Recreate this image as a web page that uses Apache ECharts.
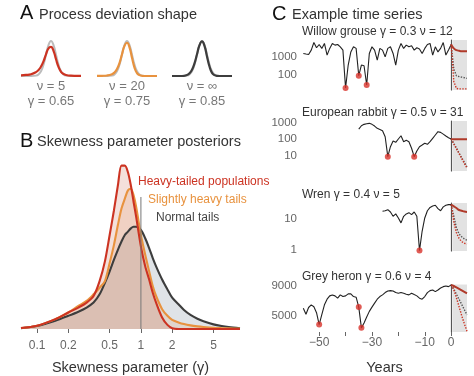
<!DOCTYPE html>
<html>
<head>
<meta charset="utf-8">
<script src="https://cdn.jsdelivr.net/npm/echarts@6/dist/echarts.min.js"></script>
<style>
  html, body { margin: 0; padding: 0; background: #fff; }
  #main { width: 474px; height: 376px; }
</style>
</head>
<body>
<div id="main"></div>
<script>
var FONT = '"Liberation Sans", Arial, Helvetica, sans-serif';
var RED = '#cc3322', ORANGE = '#e8923e', DARK = '#3d3d3d';

// A: process deviation shapes (scaled densities)
var devX = [-6, -5, -4, -3, -2.5, -2, -1.5, -1, -0.5, 0, 0.5, 1, 1.5, 2, 2.5, 3, 4, 5, 6];
var devRef = [0, 0, 0.0003, 0.011, 0.044, 0.135, 0.325, 0.607, 0.882, 1, 0.882, 0.607, 0.325, 0.135, 0.044, 0.011, 0.0003, 0, 0];
var devNu5 = [0.02, 0.03, 0.05, 0.11, 0.17, 0.27, 0.42, 0.62, 0.79, 0.83, 0.72, 0.48, 0.26, 0.12, 0.06, 0.03, 0.01, 0.005, 0.003];
var devNu20 = [0.003, 0.006, 0.015, 0.05, 0.1, 0.2, 0.37, 0.62, 0.86, 0.95, 0.82, 0.52, 0.24, 0.08, 0.025, 0.006, 0, 0, 0];
var devNuInf = [0, 0, 0, 0.03, 0.08, 0.18, 0.36, 0.62, 0.88, 0.99, 0.86, 0.56, 0.27, 0.09, 0.025, 0.005, 0, 0, 0];
var devNuLabels = ['ν = 5', 'ν = 20', 'ν = ∞'];
var devGammaLabels = ['γ = 0.65', 'γ = 0.75', 'γ = 0.85'];

// B: skewness posteriors
var gammaX = [0.07, 0.1, 0.15, 0.2, 0.25, 0.3, 0.35, 0.4, 0.45, 0.5, 0.55, 0.6, 0.65, 0.7, 0.75, 0.8, 0.85, 0.9, 1,
  1.1, 1.2, 1.3, 1.4, 1.6, 1.8, 2, 2.3, 2.6, 3, 3.5, 4, 5, 6, 7, 9];
var postHeavy = [0.006, 0.02, 0.06, 0.10, 0.13, 0.16, 0.20, 0.29, 0.41, 0.57, 0.72, 0.87, 0.99, 0.99, 0.95, 0.87, 0.77, 0.68, 0.50,
  0.38, 0.30, 0.22, 0.16, 0.07, 0.025, 0.005, 0, 0, 0, 0, 0, 0, 0, 0, 0];
var postSlight = [0.006, 0.02, 0.06, 0.10, 0.14, 0.17, 0.21, 0.25, 0.29, 0.40, 0.51, 0.63, 0.73, 0.79, 0.84, 0.85, 0.81, 0.74, 0.57,
  0.45, 0.35, 0.26, 0.20, 0.12, 0.08, 0.055, 0.04, 0.03, 0.022, 0.016, 0.012, 0.007, 0.005, 0.004, 0.002];
var postNormal = [0.005, 0.018, 0.05, 0.08, 0.105, 0.13, 0.16, 0.21, 0.28, 0.35, 0.42, 0.48, 0.53, 0.57, 0.59, 0.61, 0.62, 0.62, 0.60,
  0.55, 0.49, 0.43, 0.38, 0.30, 0.24, 0.19, 0.15, 0.115, 0.085, 0.062, 0.047, 0.028, 0.018, 0.012, 0.005];
var gammaTicks = [0.1, 0.2, 0.5, 1, 2, 5];

// C: example time series (year 0 = last observation)
var grouseStart = -56;
var grouse = [1550, 1450, 1360, 2400, 6500, 3260, 5000, 3000, 5700, 1250, 3000, 5700, 4600, 5000, 3700, 2400, 17, 340, 1900, 3700,
  3000, 84, 340, 310, 25, 1550, 3700, 2400, 650, 3000, 2400, 1000, 3000, 3700, 1550, 340, 2400, 5700, 3000, 4600,
  3700, 4200, 2400, 3260, 2800, 1550, 3000, 5000, 5700, 1250, 3700, 1900, 3000, 6500, 1250, 2400, 5000];
var grouseCrash = [[-40, 17], [-35, 84], [-32, 25]];
var grouseMid = [5000, 3000, 2400, 2200, 2100, 2100, 2100];
var grouseLowT = [5000, 40, 16, 15, 15, 15, 15];
var grouseLowN = [5000, 200, 84, 75, 70, 65, 60];

var rabbitStart = -35;
var rabbit = [400, 630, 760, 830, 870, 760, 600, 440, 380, 320, 140, 9.2, 36, 78, 65, 103, 160, 71, 86, 71,
  29, 9.2, 20, 36, 45, 57, 50, 71, 112, 177, 279, 255, 200, 155, 122, 103];
var rabbitCrash = [[-24, 9.2], [-14, 9.2]];
var rabbitMid = [103, 100, 100, 100, 100, 100, 100];
var rabbitLowT = [103, 52, 27, 14, 7, 3.7, 1.9];
var rabbitLowN = [103, 56, 30, 15, 8, 4.2, 2.3];

var wrenStart = -26;
var wren = [17.3, 18, 19.5, 16.4, 11.9, 14.2, 10.5, 7.3, 11.9, 14.2, 15.6, 13.5, 16.4, 11.9, 0.93, 3.9, 10.5, 18, 23, 25.7,
  27, 21, 18, 24, 27, 28.4, 28.4];
var wrenCrash = [[-12, 0.93]];
var wrenMid = [28.4, 25, 22, 19, 18, 17, 16.5];
var wrenLowT = [28.4, 8, 3.5, 2.3, 1.8, 1.6, 1.5];
var wrenLowN = [28.4, 12, 5, 3.2, 2.6, 2.2, 2.0];

var heronStart = -56;
var heron = [6000, 5200, 6100, 6450, 6200, 5400, 3800, 5133, 6467, 7222, 7667, 7800, 7667, 7356, 7800, 7578, 7667, 7933, 7933, 7578,
  7489, 6156, 3356, 4022, 4822, 5578, 6156, 6689, 7222, 7578, 7800, 8111, 8333, 8378, 8333, 8111, 8022, 8111, 8022, 7889,
  7800, 8022, 7844, 7667, 7356, 7222, 7578, 8111, 8378, 8467, 8244, 8467, 8733, 8911, 9000, 8911, 9133];
var heronCrash = [[-50, 3800], [-35, 6156], [-34, 3356]];
var heronMid = [9133, 9000, 8800, 8600, 8400, 8200, 8000];
var heronLowT = [9133, 8500, 7400, 6200, 5000, 3900, 2900];
var heronLowN = [9133, 8600, 7900, 7200, 6500, 5800, 5100];

var forecastYears = [0, 1, 2, 3, 4, 5, 6];
var yearTicks = [-50, -40, -30, -20, -10, 0];
var yearLabels = [-50, -30, -10, 0];

var panels = [
  {name: 'Willow grouse γ = 0.3 ν = 12', start: grouseStart, obs: grouse, crash: grouseCrash, mid: grouseMid, lowT: grouseLowT, lowN: grouseLowN, ticks: [100, 1000]},
  {name: 'European rabbit γ = 0.5 ν = 31', start: rabbitStart, obs: rabbit, crash: rabbitCrash, mid: rabbitMid, lowT: rabbitLowT, lowN: rabbitLowN, ticks: [10, 100, 1000]},
  {name: 'Wren γ = 0.4 ν = 5', start: wrenStart, obs: wren, crash: wrenCrash, mid: wrenMid, lowT: wrenLowT, lowN: wrenLowN, ticks: [1, 10]},
  {name: 'Grey heron γ = 0.6 ν = 4', start: heronStart, obs: heron, crash: heronCrash, mid: heronMid, lowT: heronLowT, lowN: heronLowN, ticks: [5000, 9000]}
];

function pairs(xs, ys) { return xs.map(function (x, i) { return [x, ys[i]]; }); }
function yearly(start, vals) { return vals.map(function (v, i) { return [start + i, v]; }); }

var grid = [
  {left: 21, top: 41, width: 60, height: 35},
  {left: 97, top: 41, width: 60, height: 35},
  {left: 172, top: 41, width: 60, height: 35},
  {left: 21, top: 164, width: 219, height: 166},
  {left: 302, top: 40, width: 165, height: 50},
  {left: 302, top: 121, width: 165, height: 50},
  {left: 302, top: 203, width: 165, height: 48},
  {left: 302, top: 284.5, width: 165, height: 48.5}
];

var xAxis = [], yAxis = [], series = [];

// panel A
[devNu5, devNu20, devNuInf].forEach(function (vals, i) {
  xAxis.push({gridIndex: i, type: 'value', min: -6, max: 6, show: false});
  yAxis.push({gridIndex: i, type: 'value', min: 0, max: 1, show: false});
  series.push({type: 'line', xAxisIndex: i, yAxisIndex: i, data: pairs(devX, devRef), smooth: true,
    showSymbol: false, lineStyle: {color: '#bcbcbc', width: 2}, silent: true});
  series.push({type: 'line', xAxisIndex: i, yAxisIndex: i, data: pairs(devX, vals), smooth: true,
    showSymbol: false, lineStyle: {color: [RED, ORANGE, DARK][i], width: 2.2}, silent: true});
});

// panel B
xAxis.push({gridIndex: 3, type: 'log', min: 0.07, max: 9, offset: 5,
  axisLine: {show: false},
  axisTick: {show: true, customValues: gammaTicks, length: 4, lineStyle: {color: '#666'}},
  axisLabel: {customValues: gammaTicks, color: '#666', fontSize: 12, fontFamily: FONT, margin: 6},
  splitLine: {show: false},
  name: 'Skewness parameter (γ)', nameLocation: 'middle', nameGap: 26,
  nameTextStyle: {color: '#333', fontSize: 14.5, fontFamily: FONT}});
yAxis.push({gridIndex: 3, type: 'value', min: 0, max: 1, show: false});
[[postNormal, DARK, '#b8c2ca', 0.45], [postSlight, ORANGE, '#e8a36a', 0.2], [postHeavy, RED, '#c8664a', 0.2]].forEach(function (p) {
  series.push({type: 'line', xAxisIndex: 3, yAxisIndex: 3, data: pairs(gammaX, p[0]), smooth: 0.3,
    showSymbol: false, lineStyle: {color: p[1], width: 2.1}, areaStyle: {color: p[2], opacity: p[3]}, silent: true});
});
series.push({type: 'line', xAxisIndex: 3, yAxisIndex: 3, data: [[1, 0], [1, 0.8]], showSymbol: false,
  lineStyle: {color: '#777', width: 1}, silent: true});

// panel C
panels.forEach(function (p, k) {
  var gi = 4 + k, last = k === 3;
  xAxis.push({gridIndex: gi, type: 'value', min: -56.5, max: 6, show: last,
    axisLine: {show: false},
    axisTick: {show: true, customValues: yearTicks, length: 4, lineStyle: {color: '#666'}},
    axisLabel: {customValues: yearLabels, color: '#666', fontSize: 12, fontFamily: FONT, margin: 5,
      formatter: function (v) { return String(v).replace('-', '\u2212'); }},
    splitLine: {show: false},
    name: last ? 'Years' : '', nameLocation: 'middle', nameGap: 28,
    nameTextStyle: {color: '#333', fontSize: 14.5, fontFamily: FONT}});
  var ya = {gridIndex: gi, splitLine: {show: false},
    axisLine: {show: true, lineStyle: {color: '#555', width: 1.2}},
    axisTick: {show: false},
    axisLabel: {color: '#666', fontSize: 11.5, fontFamily: FONT, margin: 5,
      formatter: function (v) {
        for (var t = 0; t < p.ticks.length; t++) { if (Math.abs(v - p.ticks[t]) < 1e-6 * p.ticks[t]) return String(p.ticks[t]); }
        return '';
      }}};
  if (k === 0) { ya.type = 'log'; ya.min = 13; ya.max = 9000; }
  if (k === 1) { ya.type = 'log'; ya.min = 1.3; ya.max = 1200; }
  if (k === 2) { ya.type = 'log'; ya.min = 0.9; ya.max = 32; }
  if (k === 3) { ya.type = 'value'; ya.min = 2800; ya.max = 9200; ya.interval = 200; }
  yAxis.push(ya);
  series.push({type: 'line', xAxisIndex: gi, yAxisIndex: gi, data: yearly(p.start, p.obs), showSymbol: false,
    lineStyle: {color: '#222', width: 1.1}, silent: true,
    markArea: {silent: true, itemStyle: {color: '#e2e2e2'}, data: [[{xAxis: 0.6}, {xAxis: 6}]]}});
  series.push({type: 'line', xAxisIndex: gi, yAxisIndex: gi, data: pairs(forecastYears, p.lowN), showSymbol: false,
    lineStyle: {color: '#555', width: 1.4, type: 'dotted'}, silent: true});
  series.push({type: 'line', xAxisIndex: gi, yAxisIndex: gi, data: pairs(forecastYears, p.lowT), showSymbol: false,
    lineStyle: {color: RED, width: 1.4, type: 'dotted'}, silent: true});
  series.push({type: 'line', xAxisIndex: gi, yAxisIndex: gi, data: pairs(forecastYears, p.mid), showSymbol: false, smooth: true,
    lineStyle: {color: '#b03a2a', width: 2}, silent: true});
  series.push({type: 'scatter', xAxisIndex: gi, yAxisIndex: gi, data: p.crash, symbolSize: 6,
    itemStyle: {color: '#d8322a'}, silent: true, z: 5});
});

function label(text, x, y, size, color, align) {
  return {type: 'text', x: x, y: y, silent: true, z: 100,
    style: {text: text, fill: color, fontSize: size, fontFamily: FONT,
      textAlign: align || 'left', align: align || 'left', textVerticalAlign: 'middle', verticalAlign: 'middle'}};
}

var graphic = [
  label('A', 20, 13, 20, '#111'),
  label('Process deviation shape', 39, 14.5, 14.5, '#333'),
  label('B', 20, 141, 20, '#111'),
  label('Skewness parameter posteriors', 37, 142, 14.5, '#333'),
  label('C', 272, 14.5, 20, '#111'),
  label('Example time series', 292, 15, 14.5, '#333'),
  label('Heavy-tailed populations', 138, 182, 12, RED),
  label('Slightly heavy tails', 148, 200, 12, ORANGE),
  label('Normal tails', 156, 218, 12, '#444')
];
[51, 127, 202].forEach(function (cx, i) {
  graphic.push(label(devNuLabels[i], cx, 86, 13, '#777', 'center'));
  graphic.push(label(devGammaLabels[i], cx, 101, 13, '#777', 'center'));
});
[32, 113, 195, 277].forEach(function (cy, k) {
  graphic.push(label(panels[k].name, 302, cy, 12, '#333'));
});

var chart = echarts.init(document.getElementById('main'));
chart.setOption({
  backgroundColor: '#fff',
  animation: false,
  textStyle: {fontFamily: FONT},
  grid: grid,
  xAxis: xAxis,
  yAxis: yAxis,
  series: series,
  graphic: graphic
});
</script>
</body>
</html>
